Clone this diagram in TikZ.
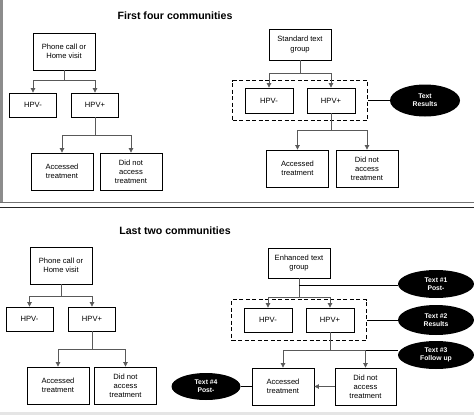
\documentclass[tikz,border=0pt]{standalone}
\usepackage{fontspec}
\setmainfont{Liberation Sans}
\usepackage{tikz}
\usetikzlibrary{arrows.meta, calc, positioning, fit, shapes.geometric}

\begin{document}
\begin{tikzpicture}[x=1pt,y=-1pt,>={Triangle[length=4.5pt,width=4.5pt]},
                    box/.style={rectangle,draw=black,line width=0.8pt,align=center,inner sep=1pt,
                                font=\fontsize{7.6}{9.2}\selectfont},
                    big box/.style={box,minimum width=62pt,minimum height=37pt},
                    hpv box/.style={box,minimum width=47pt,minimum height=24pt},
                    group box/.style={draw,line width=1pt,dash pattern=on 4pt off 2.5pt,
                                      inner xsep=12pt,inner ysep=7pt},
                    text bubble/.style={ellipse,fill=black,text=white,align=center,inner sep=0pt,
                                        font=\bfseries\fontsize{6.8}{8.2}\selectfont},
                    title/.style={font=\bfseries\fontsize{10.6}{12}\selectfont},
                    conn/.style={draw=black!65,line width=0.7pt},
                    link/.style={draw=black,line width=1pt}]

  \useasboundingbox (0,0) rectangle (474,415);

  % frame
  \fill[black!45] (0,0) rectangle (2.5,203);
  \draw[black!55,line width=1pt] (0,202) -- (474,202);
  \draw[black!85,line width=1.2pt] (0,207.5) -- (474,207.5);
  \fill[black!10] (0,412) rectangle (474,415);

  % first four communities
  \node[title] (ttl1) at (175,16) {First four communities};

  \node[big box] (pc1) at (64,51.5) {Phone call or\\Home visit};
  \node[hpv box] (hm1) at (33,105) {HPV-};
  \node[hpv box] (hp1) at (95,105) {HPV+};
  \node[big box] (ac1) at (62,171.5) {Accessed\\treatment};
  \node[big box] (dn1) at (131,171.5) {Did not\\access\\treatment};

  \node[big box,minimum height=31pt] (st) at (300,44.5) {Standard text\\group};
  \node[hpv box,minimum width=48pt,minimum height=25pt] (hm2) at (269,100.5) {HPV-};
  \node[hpv box,minimum width=48pt,minimum height=25pt] (hp2) at (331,100.5) {HPV+};
  \node[group box,fit=(hm2)(hp2)] (grp2) {};
  \node[text bubble,minimum width=70pt,minimum height=32pt] (res) at (425,100.5) {Text\\Results};
  \node[big box] (ac2) at (297.5,168.5) {Accessed\\treatment};
  \node[big box] (dn2) at (367,168.5) {Did not\\access\\treatment};

  \draw[conn,->] (pc1.south) -- ++(0,10) -| (hm1.north);
  \draw[conn,->] (pc1.south) -- ++(0,10) -| (hp1.north);
  \draw[conn,->] (hp1.south) -- ++(0,18) -| (ac1.north);
  \draw[conn,->] (hp1.south) -- ++(0,18) -| (dn1.north);

  \draw[conn,->] (st.south) -- ++(0,13) -| (hm2.north);
  \draw[conn,->] (st.south) -- ++(0,13) -| (hp2.north);
  \draw[conn,->] (hp2.south) -- ++(0,17) -| (ac2.north);
  \draw[conn,->] (hp2.south) -- ++(0,17) -| (dn2.north);
  \draw[link] (grp2.east) -- (res.west);

  % last two communities
  \node[title] (ttl2) at (175,231) {Last two communities};

  \node[big box] (pc3) at (61,265.5) {Phone call or\\Home visit};
  \node[hpv box] (hm3) at (29.5,319) {HPV-};
  \node[hpv box] (hp3) at (92,319) {HPV+};
  \node[big box] (ac3) at (58,385.5) {Accessed\\treatment};
  \node[big box] (dn3) at (125.5,385.5) {Did not\\access\\treatment};

  \node[big box,minimum height=30pt] (et) at (299,263) {Enhanced text\\group};
  \node[hpv box,minimum width=48pt] (hm4) at (268,320) {HPV-};
  \node[hpv box,minimum width=48pt] (hp4) at (330,320) {HPV+};
  \node[group box,inner ysep=8pt,fit=(hm4)(hp4)] (grp4) {};
  \node[big box] (ac4) at (283,386.5) {Accessed\\treatment};
  \node[big box,minimum width=61pt] (dn4) at (365.5,386.5) {Did not\\access\\treatment};

  \node[text bubble,minimum width=76pt,minimum height=28pt] (t1) at (436,284) {Text \#1\\Post-};
  \node[text bubble,minimum width=76pt,minimum height=30pt] (t2) at (436,320) {Text \#2\\Results};
  \node[text bubble,minimum width=76pt,minimum height=28pt] (t3) at (436,355) {Text \#3\\Follow up};
  \node[text bubble,minimum width=69pt,minimum height=27pt] (t4) at (206,386.5) {Text \#4\\Post-};

  \draw[conn,->] (pc3.south) -- ++(0,12) -| (hm3.north);
  \draw[conn,->] (pc3.south) -- ++(0,12) -| (hp3.north);
  \draw[conn,->] (hp3.south) -- ++(0,18) -| (ac3.north);
  \draw[conn,->] (hp3.south) -- ++(0,18) -| (dn3.north);

  \draw[conn,->] (et.south) -- ++(0,19) -| (hm4.north);
  \draw[conn,->] (et.south) -- ++(0,19) -| (hp4.north);
  \draw[conn,->] (hp4.south) -- ++(0,18) -| (ac4.north);
  \draw[conn,->] (hp4.south) -- ++(0,18) -| (dn4.north);
  \draw[conn,->] (dn4.west) -- (ac4.east);

  \coordinate (k1) at ($(et.south)+(0,7)$);
  \coordinate (k3) at ($(hp4.south)+(0,18)$);
  \draw[link] (k1) -- (k1 -| t1.west);
  \draw[link] (grp4.east) -- (t2.west);
  \draw[link] (k3 -| dn4.north) -- (k3 -| t3.west);
  \draw[link] (t4.east) -- (ac4.west);

\end{tikzpicture}
\end{document}
